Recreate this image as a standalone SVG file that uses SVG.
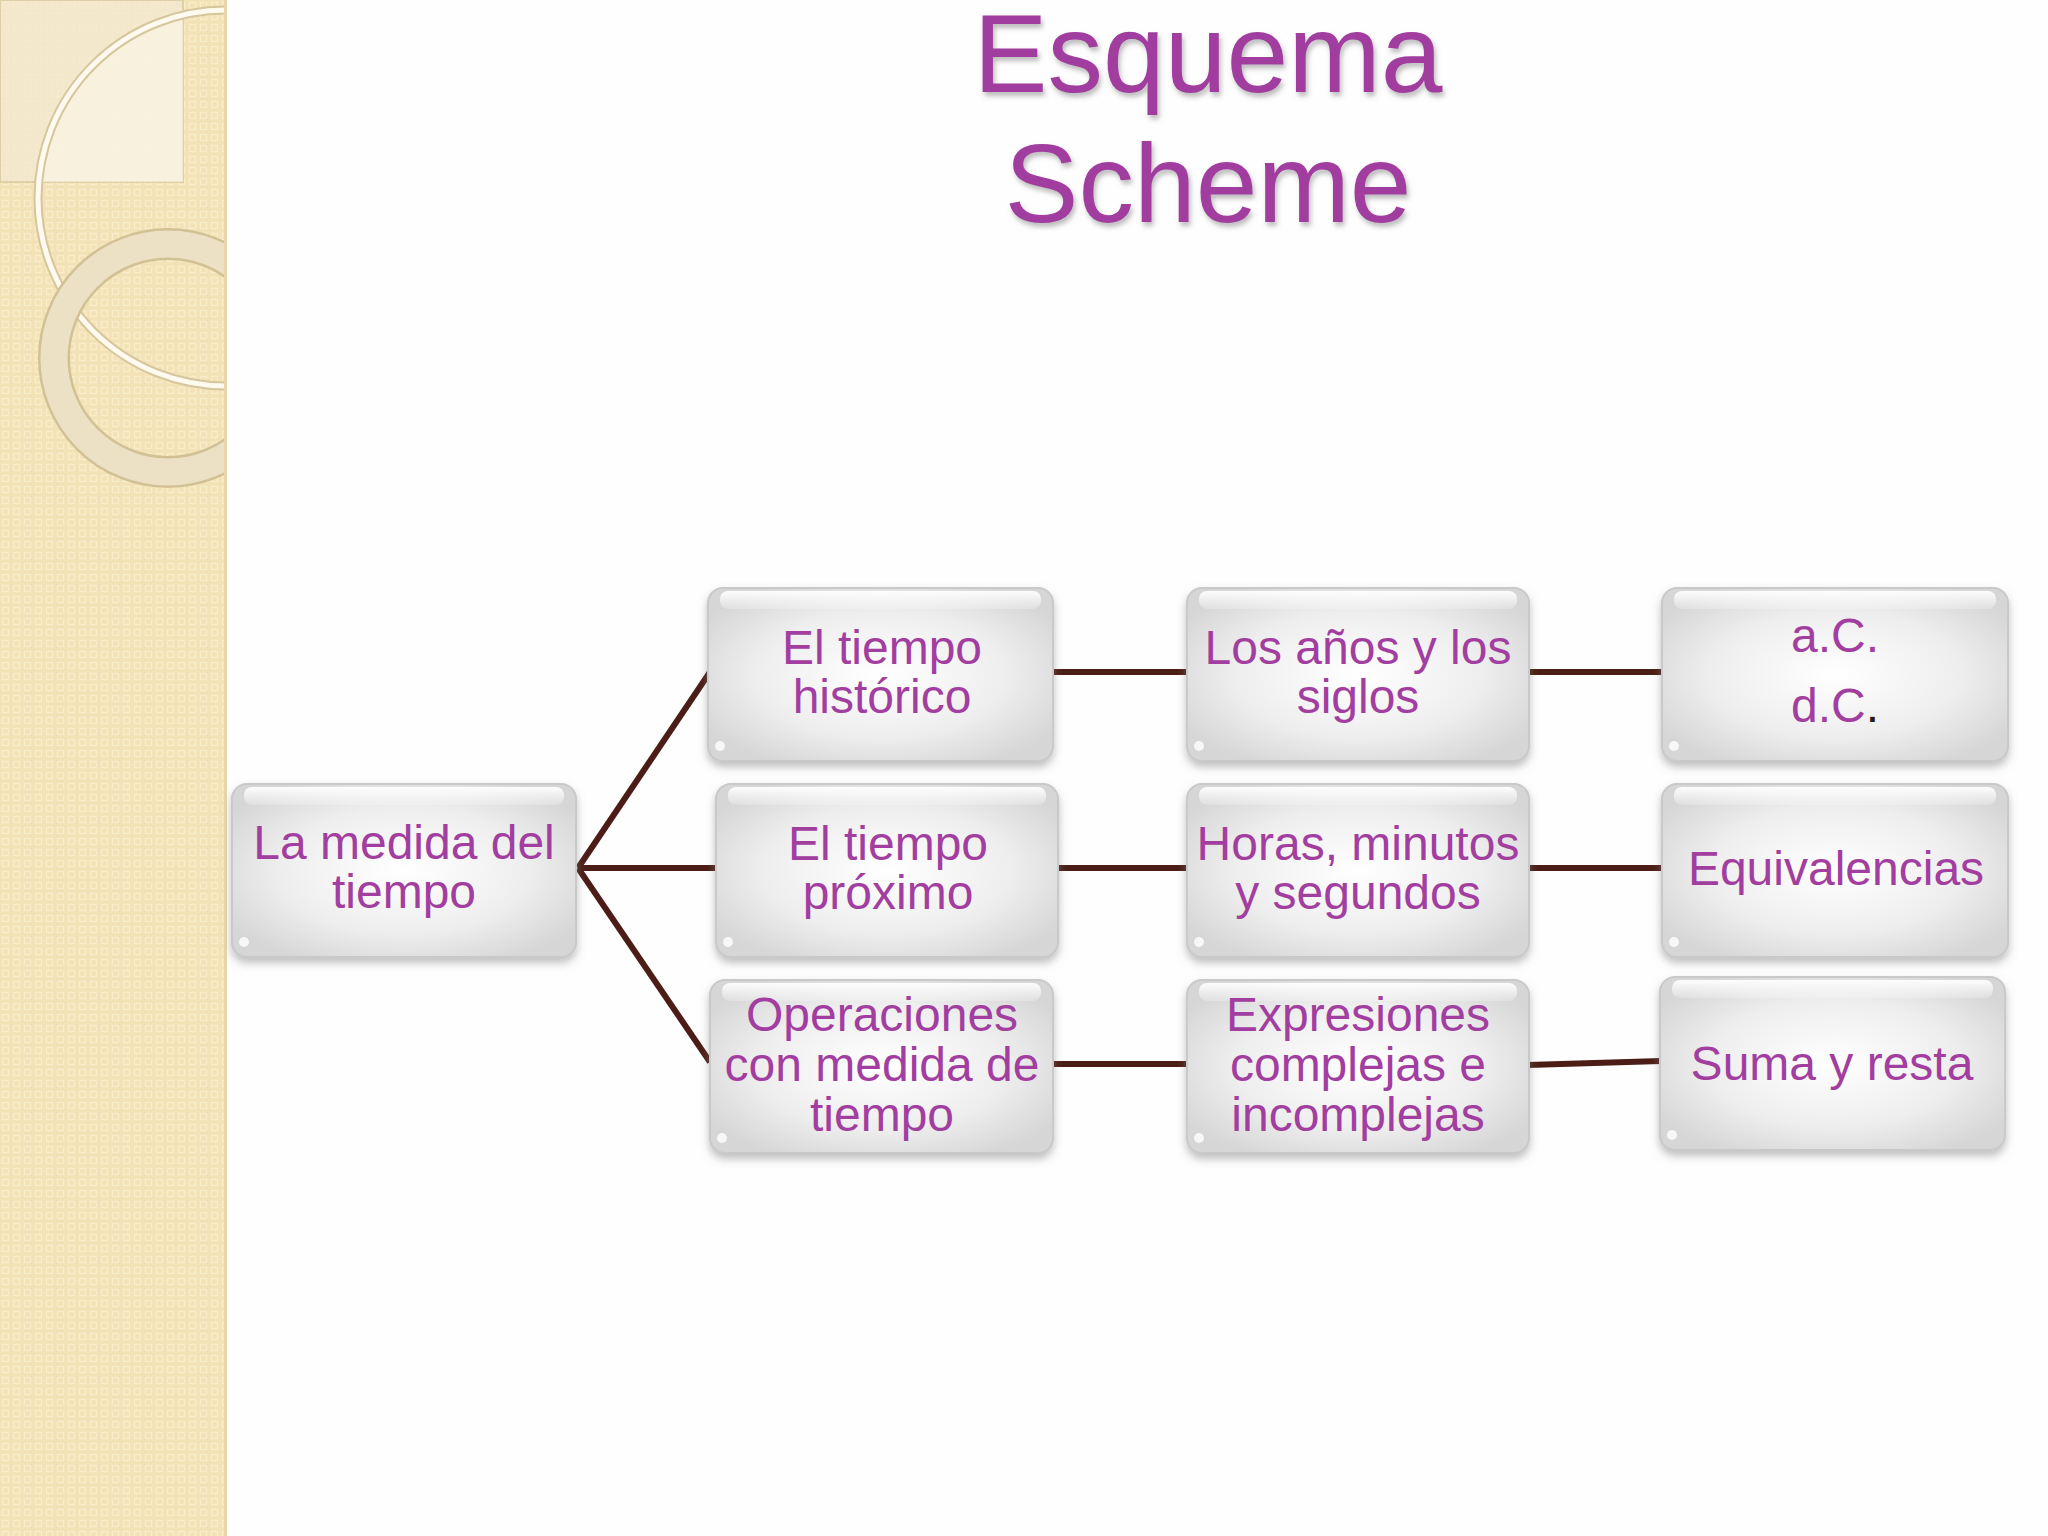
<svg xmlns="http://www.w3.org/2000/svg" width="2048" height="1536" viewBox="0 0 2048 1536">
<defs>
<style>
.lbl{font-family:"Liberation Sans",Arial,sans-serif;font-size:48px;fill:#a23ea0;text-anchor:middle}
.ttl{font-family:"Liberation Sans",Arial,sans-serif;font-size:111px;fill:#a23ea0;text-anchor:middle}
.box{fill:url(#boxg);stroke:#c9c9c9;stroke-width:2;filter:url(#sh)}
.hl{fill:url(#hlg)}
.dot{fill:#ffffff;opacity:0.8}
.con{stroke:#4b1d16;stroke-width:6;fill:none;stroke-linecap:butt}
</style>
<radialGradient id="boxg" cx="0.5" cy="0.5" r="0.6">
<stop offset="0" stop-color="#ffffff"/>
<stop offset="0.6" stop-color="#eeeeee"/>
<stop offset="1" stop-color="#d6d6d6"/>
</radialGradient>
<linearGradient id="hlg" x1="0" y1="0" x2="0" y2="1">
<stop offset="0" stop-color="#ffffff" stop-opacity="0.95"/>
<stop offset="1" stop-color="#ffffff" stop-opacity="0.2"/>
</linearGradient>
<filter id="sh" x="-10%" y="-10%" width="120%" height="130%">
<feDropShadow dx="0" dy="5" stdDeviation="4" flood-color="#808080" flood-opacity="0.5"/>
</filter>
<filter id="tsh" x="-10%" y="-10%" width="120%" height="130%">
<feDropShadow dx="2" dy="4" stdDeviation="2.5" flood-color="#7a7a7a" flood-opacity="0.5"/>
</filter>
<pattern id="pat" width="11" height="11" patternUnits="userSpaceOnUse">
<rect width="11" height="11" fill="#f3e2b6"/>
<rect x="2.5" y="2.5" width="6" height="6" fill="none" stroke="#f8ecc9" stroke-width="1.5"/>
</pattern>
<clipPath id="strip"><rect x="0" y="0" width="227" height="1536"/></clipPath>
<clipPath id="sq"><rect x="0" y="0" width="183" height="182"/></clipPath>
</defs>

<rect x="0" y="0" width="2048" height="1536" fill="#fefefe"/>

<g id="background-strip" clip-path="url(#strip)">
<rect x="0" y="0" width="227" height="1536" fill="url(#pat)"/>
<rect x="0" y="0" width="183" height="182" fill="#f4ead2" opacity="0.75" stroke="#d8c9a2" stroke-width="2"/>
<circle cx="226" cy="198" r="188" fill="#fbf6ea" opacity="0.6" clip-path="url(#sq)"/>
<circle cx="226" cy="198" r="188" fill="none" stroke="#d6c69c" stroke-width="9"/>
<circle cx="226" cy="198" r="188" fill="none" stroke="#fffaf0" stroke-width="5"/>
<circle cx="168" cy="358" r="114" fill="none" stroke="#d3c196" stroke-width="32"/>
<circle cx="168" cy="358" r="114" fill="none" stroke="#ece1c4" stroke-width="27"/>
<rect x="224" y="0" width="3" height="1536" fill="#e7d6a8"/>
</g>

<g id="title">
<text class="ttl" x="1208" y="92" filter="url(#tsh)">Esquema</text>
<text class="ttl" x="1208" y="222" filter="url(#tsh)">Scheme</text>
</g>

<g id="connectors">
<line class="con" x1="578" y1="868" x2="710" y2="672"/>
<line class="con" x1="578" y1="868" x2="717" y2="868"/>
<line class="con" x1="578" y1="868" x2="710" y2="1062"/>
<line class="con" x1="1052" y1="672" x2="1188" y2="672"/>
<line class="con" x1="1057" y1="868" x2="1188" y2="868"/>
<line class="con" x1="1052" y1="1064" x2="1188" y2="1064"/>
<line class="con" x1="1528" y1="672" x2="1663" y2="672"/>
<line class="con" x1="1528" y1="868" x2="1663" y2="868"/>
<line class="con" x1="1528" y1="1065" x2="1661" y2="1061"/>
</g>

<g id="n-root">
<rect class="box" x="232" y="784" width="344" height="173" rx="15"/>
<rect class="hl" x="244" y="787" width="320" height="18" rx="8"/>
<circle class="dot" cx="244" cy="942" r="5"/>
<text class="lbl" x="404" y="859">La medida del</text>
<text class="lbl" x="404" y="908">tiempo</text>
</g>

<g id="n-historico">
<rect class="box" x="708" y="588" width="345" height="173" rx="15"/>
<rect class="hl" x="720" y="591" width="321" height="18" rx="8"/>
<circle class="dot" cx="720" cy="746" r="5"/>
<text class="lbl" x="882" y="664">El tiempo</text>
<text class="lbl" x="882" y="713">histórico</text>
</g>

<g id="n-proximo">
<rect class="box" x="716" y="784" width="342" height="173" rx="15"/>
<rect class="hl" x="728" y="787" width="318" height="18" rx="8"/>
<circle class="dot" cx="728" cy="942" r="5"/>
<text class="lbl" x="888" y="860">El tiempo</text>
<text class="lbl" x="888" y="909">próximo</text>
</g>

<g id="n-operaciones">
<rect class="box" x="710" y="980" width="343" height="173" rx="15"/>
<rect class="hl" x="722" y="983" width="319" height="18" rx="8"/>
<circle class="dot" cx="722" cy="1138" r="5"/>
<text class="lbl" x="882" y="1031">Operaciones</text>
<text class="lbl" x="882" y="1081">con medida de</text>
<text class="lbl" x="882" y="1131">tiempo</text>
</g>

<g id="n-anos">
<rect class="box" x="1187" y="588" width="342" height="173" rx="15"/>
<rect class="hl" x="1199" y="591" width="318" height="18" rx="8"/>
<circle class="dot" cx="1199" cy="746" r="5"/>
<text class="lbl" x="1358" y="664">Los años y los</text>
<text class="lbl" x="1358" y="713">siglos</text>
</g>

<g id="n-horas">
<rect class="box" x="1187" y="784" width="342" height="173" rx="15"/>
<rect class="hl" x="1199" y="787" width="318" height="18" rx="8"/>
<circle class="dot" cx="1199" cy="942" r="5"/>
<text class="lbl" x="1358" y="860">Horas, minutos</text>
<text class="lbl" x="1358" y="909">y segundos</text>
</g>

<g id="n-expresiones">
<rect class="box" x="1187" y="980" width="342" height="173" rx="15"/>
<rect class="hl" x="1199" y="983" width="318" height="18" rx="8"/>
<circle class="dot" cx="1199" cy="1138" r="5"/>
<text class="lbl" x="1358" y="1031">Expresiones</text>
<text class="lbl" x="1358" y="1081">complejas e</text>
<text class="lbl" x="1358" y="1131">incomplejas</text>
</g>

<g id="n-ac-dc">
<rect class="box" x="1662" y="588" width="346" height="173" rx="15"/>
<rect class="hl" x="1674" y="591" width="322" height="18" rx="8"/>
<circle class="dot" cx="1674" cy="746" r="5"/>
<text class="lbl" x="1835" y="652">a.C.</text>
<text class="lbl" x="1835" y="722">d.C<tspan fill="#2a1a16">.</tspan></text>
</g>

<g id="n-equivalencias">
<rect class="box" x="1662" y="784" width="346" height="173" rx="15"/>
<rect class="hl" x="1674" y="787" width="322" height="18" rx="8"/>
<circle class="dot" cx="1674" cy="942" r="5"/>
<text class="lbl" x="1836" y="885">Equivalencias</text>
</g>

<g id="n-suma">
<rect class="box" x="1660" y="977" width="345" height="173" rx="15"/>
<rect class="hl" x="1672" y="980" width="321" height="18" rx="8"/>
<circle class="dot" cx="1672" cy="1135" r="5"/>
<text class="lbl" x="1832" y="1080">Suma y resta</text>
</g>
</svg>
